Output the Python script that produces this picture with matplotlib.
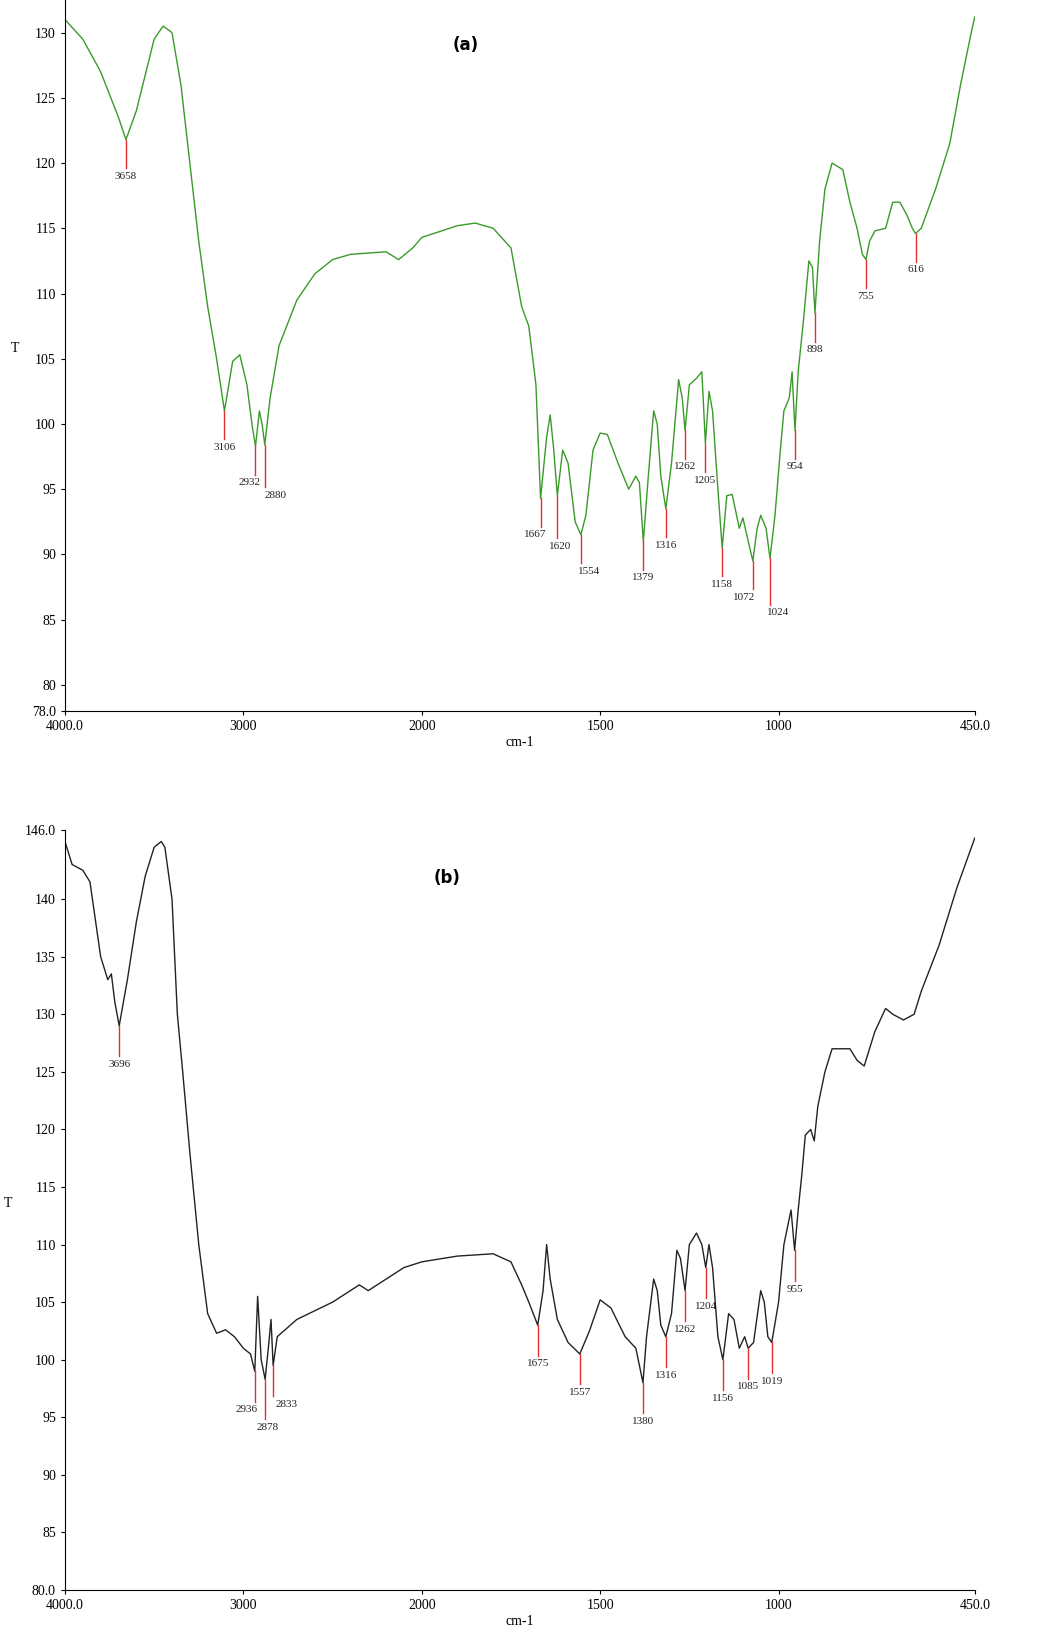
import numpy as np
import matplotlib
matplotlib.use("Agg")
import matplotlib.pyplot as plt

plt.rcParams['font.family'] = ['Liberation Serif', 'DejaVu Serif']

wn_a = [4000,3900,3800,3700,3658,3600,3500,3450,3400,3350,3300,3250,3200,3150,3106,3060,3020,2980,2950,2932,2910,2895,2880,2850,2800,2700,2600,2500,2400,2300,2200,2130,2050,2000,1900,1850,1800,1750,1720,1700,1680,1667,1650,1640,1630,1620,1605,1590,1570,1554,1540,1520,1500,1480,1450,1420,1400,1390,1379,1365,1350,1340,1330,1316,1300,1280,1270,1262,1250,1230,1215,1205,1195,1185,1170,1158,1145,1130,1110,1100,1085,1072,1060,1050,1035,1024,1010,995,985,970,962,954,945,930,915,905,898,885,870,850,820,800,780,765,755,745,730,700,680,660,640,625,616,600,560,520,490,460,450]
t_a = [131,129.5,127,123.5,121.8,124,129.5,130.5,130,126,120,114,109,105,101,104.8,105.3,103,99.8,98.3,101,100,98.4,102,106,109.5,111.5,112.6,113,113.1,113.2,112.6,113.5,114.3,115.2,115.4,115,113.5,109,107.5,103,94.3,99,100.7,98,94.5,98,97,92.5,91.5,93,98,99.3,99.2,97,95,96,95.5,91,96,101,100,96,93.5,97,103.4,102,99.5,103,103.5,104,98.5,102.5,101,95,90.5,94.5,94.6,92,92.8,91,89.5,92,93,92,89.7,93,98,101,102,104,99.5,104,108,112.5,112,108.5,114,118,120,119.5,117,115,113,112.6,114,114.8,115,117,117,116,115,114.6,115,118,121.5,126,130,131.2]
peaks_a = [3658,3106,2932,2880,1667,1620,1554,1379,1316,1262,1205,1158,1072,1024,954,898,755,616]

wn_b = [4000,3960,3900,3860,3800,3760,3740,3720,3696,3650,3600,3550,3500,3460,3440,3400,3370,3340,3300,3250,3200,3150,3100,3050,3000,2960,2936,2920,2900,2878,2860,2845,2833,2810,2700,2500,2400,2350,2300,2200,2100,2000,1900,1800,1750,1720,1700,1675,1660,1650,1640,1620,1590,1557,1530,1500,1470,1430,1400,1390,1380,1370,1350,1340,1330,1316,1300,1285,1275,1262,1250,1230,1215,1204,1195,1185,1170,1156,1140,1125,1110,1095,1085,1070,1050,1040,1030,1019,1000,985,965,955,945,935,925,910,900,890,870,850,800,780,760,730,700,680,650,620,600,550,500,450]
t_b = [145,143,142.5,141.5,135,133,133.5,131,129,133,138,142,144.5,145,144.5,140,130,125,118,110,104,102.3,102.6,102,101,100.5,99,105.5,100,98.3,101,103.5,99.5,102,103.5,105,106,106.5,106,107,108,108.5,109,109.2,108.5,106.5,105,103,106,110,107,103.5,101.5,100.5,102.5,105.2,104.5,102,101,99.5,98,102,107,106,103,102,104,109.5,108.8,106,110,111,110,108,110,108,102,100,104,103.5,101,102,101,101.5,106,105,102,101.5,105,110,113,109.5,113,116,119.5,120,119,122,125,127,127,126,125.5,128.5,130.5,130,129.5,130,132,136,141,145.3]
peaks_b = [3696,2936,2878,2833,1675,1557,1380,1316,1262,1204,1156,1085,1019,955]

# label horizontal offsets (points) and extra drop (fraction of span)
dx_a = {2932: -4, 2880: 8, 1667: -4, 1620: 2, 1554: 6, 1072: -6, 1024: 6}
dd_a = {2880: 0.02, 1620: 0.02, 1024: 0.025}
dx_b = {2936: -6, 2878: 2, 2833: 10}
dd_b = {2878: 0.012}

def fwd(x):
    x = np.asarray(x, float)
    return np.where(x > 2000, 2000 + (x - 2000) * 0.5, x)
def inv(x):
    x = np.asarray(x, float)
    return np.where(x > 2000, 2000 + (x - 2000) * 2.0, x)

fig = plt.figure(figsize=(10.41, 16.28), dpi=100)
ax1 = fig.add_axes([0.0624, 0.5633, 0.874, 0.4367])
ax2 = fig.add_axes([0.0624, 0.0233, 0.874, 0.4669])

def panel(ax, wn, t, peaks, dx, dd, color, ylo, yhi, yticks, ylabs, title, tpos):
    ax.set_xscale('function', functions=(fwd, inv))
    ax.plot(wn, t, color=color, lw=1.0)
    xs = np.array(wn[::-1], float); ys = np.array(t[::-1], float)
    span = yhi - ylo
    for p in peaks:
        v = np.interp(p, xs, ys)
        d = 0.04 + dd.get(p, 0)
        ax.plot([p, p], [v, v - d * span], color='#e03030', lw=1.0)
        ax.annotate(str(p), (p, v - (d + 0.005) * span), xytext=(dx.get(p, 0), 0),
                    textcoords='offset points', ha='center', va='top', fontsize=8, color='#222')
    ax.set_xlim(4000, 450)
    ax.set_ylim(ylo, yhi)
    ax.set_xticks([4000, 3000, 2000, 1500, 1000, 450])
    ax.set_xticklabels(['4000.0', '3000', '2000', '1500', '1000', '450.0'], fontsize=10)
    ax.set_yticks(yticks)
    ax.set_yticklabels(ylabs, fontsize=10)
    ax.spines['top'].set_visible(False)
    ax.spines['right'].set_visible(False)
    ax.tick_params(direction='out', length=3)
    ax.set_ylabel('T', rotation=0, fontsize=10, labelpad=12)
    ax.set_xlabel('cm-1', fontsize=10, labelpad=2)
    ax.text(tpos, 0.93, title, transform=ax.transAxes, fontsize=12, fontweight='bold',
            family='DejaVu Sans', ha='center')

panel(ax1, wn_a, t_a, peaks_a, dx_a, dd_a, '#3a9a2a', 78, 132.5,
      [78, 80, 85, 90, 95, 100, 105, 110, 115, 120, 125, 130],
      ['78.0', '80', '85', '90', '95', '100', '105', '110', '115', '120', '125', '130'],
      '(a)', 0.44)
panel(ax2, wn_b, t_b, peaks_b, dx_b, dd_b, '#222222', 80, 146,
      [80, 85, 90, 95, 100, 105, 110, 115, 120, 125, 130, 135, 140, 146],
      ['80.0', '85', '90', '95', '100', '105', '110', '115', '120', '125', '130', '135', '140', '146.0'],
      '(b)', 0.42)

fig.savefig('out.png', dpi=100)
